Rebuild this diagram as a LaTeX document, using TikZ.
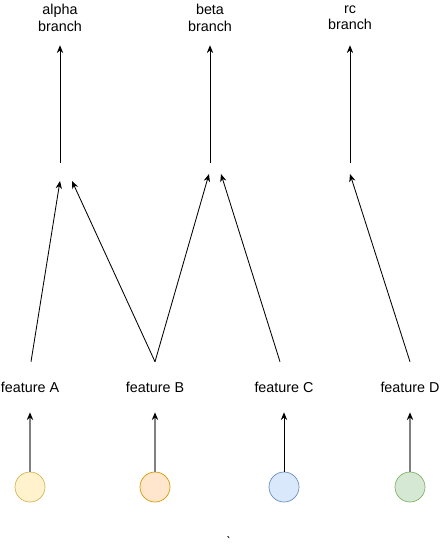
\documentclass[tikz,border=0pt]{standalone}
\usepackage{fontspec}
\setmainfont{Liberation Sans}
\usetikzlibrary{arrows.meta, positioning, calc}
\definecolor{ayellow}{RGB}{255,242,204}
\definecolor{ayellowb}{RGB}{214,182,86}
\definecolor{borange}{RGB}{255,230,204}
\definecolor{borangeb}{RGB}{215,155,0}
\definecolor{cblue}{RGB}{218,232,252}
\definecolor{cblueb}{RGB}{108,142,191}
\definecolor{dgreen}{RGB}{213,232,212}
\definecolor{dgreenb}{RGB}{130,179,102}
\definecolor{lgray}{RGB}{128,128,128}

\tikzset{
  branch/.style={align=center, font=\fontsize{10.2}{11.6}\selectfont, minimum height=1.35cm, inner sep=0pt},
  feat/.style={font=\fontsize{10.2}{11.6}\selectfont, minimum height=1.25cm, inner sep=0pt},
  dot/.style={circle, minimum size=0.75cm, inner sep=0pt, line width=0.5pt},
  arr/.style={-{Stealth[length=5.5pt,width=4.5pt]}, line width=0.6pt},
  garr/.style={-{Stealth[length=5.5pt,width=4.5pt,black]}, line width=0.9pt, lgray}
}

\begin{document}
\begin{tikzpicture}[x=0.025cm, y=-0.025cm]
\useasboundingbox (0,0) rectangle (441,554);

% branches
\node[branch] (alpha) at (60,18) {alpha\\branch};
\node[branch] (beta)  at (210,18) {beta\\branch};
\node[branch] (rc)    at (350,18) {rc\\branch};

% joins
\coordinate (aj) at (60,163);
\coordinate (bj) at (210,163);
\coordinate (rj) at (350,163);
\coordinate (a1) at (60,181);
\coordinate (a2) at (72,181);
\coordinate (b1) at (209,174);
\coordinate (b2) at (221,174);
\coordinate (r1) at (350,174);

\draw[arr] (aj) -- (alpha.south);
\draw[arr] (bj) -- (beta.south);
\draw[arr] (rj) -- (rc.south);

% features
\node[feat] (fa) at (30,387) {feature A};
\node[feat] (fb) at (155,387) {feature B};
\node[feat] (fc) at (284,387) {feature C};
\node[feat] (fd) at (410,387) {feature D};

\draw[arr] ([xshift=0.025cm]fa.north) -- (a1);
\draw[arr] (fb.north) -- (a2);
\draw[arr] (fb.north) -- (b1);
\draw[arr] ([xshift=-0.1cm]fc.north) -- (b2);
\draw[arr] (fd.north) -- (r1);

% circles
\node[dot, fill=ayellow, draw=ayellowb] (ca) at (30,487) {};
\node[dot, fill=borange, draw=borangeb] (cb) at (155,487) {};
\node[dot, fill=cblue, draw=cblueb]     (cc) at (284,487) {};
\node[dot, fill=dgreen, draw=dgreenb]   (cd) at (410,487) {};

\draw[garr] (ca) -- (fa);
\draw[garr] (cb) -- (fb);
\draw[arr]  (cc) -- (fc);
\draw[garr] (cd) -- (fd);

\node[font=\fontsize{10.2}{11.6}\selectfont, inner sep=0pt, anchor=base] (tick) at (229,549) {\`{}};
\end{tikzpicture}
\end{document}
